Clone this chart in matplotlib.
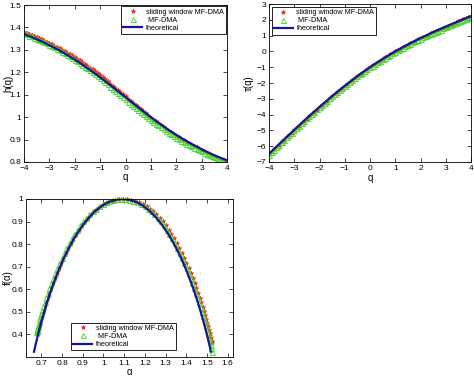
import numpy as np
import matplotlib
matplotlib.use('Agg')
import matplotlib.pyplot as plt

plt.rcParams['font.family'] = ['Liberation Sans', 'DejaVu Sans']

# moment order grid, -4 .. 4 step 0.1
q = np.linspace(-4, 4, 81)

# ---- h(q) ----
h_sw = [1.379, 1.375, 1.370, 1.366, 1.361, 1.356, 1.352, 1.347, 1.341, 1.336,
        1.330, 1.325, 1.319, 1.313, 1.307, 1.301, 1.295, 1.288, 1.282, 1.275,
        1.268, 1.261, 1.253, 1.245, 1.237, 1.229, 1.221, 1.213, 1.204, 1.196,
        1.187, 1.178, 1.169, 1.160, 1.150, 1.141, 1.131, 1.122, 1.112, 1.102,
        1.093, 1.083, 1.073, 1.064, 1.054, 1.045, 1.035, 1.026, 1.017, 1.007,
        0.998, 0.989, 0.981, 0.972, 0.964, 0.956, 0.948, 0.940, 0.932, 0.925,
        0.917, 0.910, 0.903, 0.896, 0.890, 0.883, 0.877, 0.871, 0.865, 0.859,
        0.853, 0.847, 0.842, 0.837, 0.832, 0.827, 0.823, 0.818, 0.814, 0.809,
        0.805]
h_mf = [1.373, 1.369, 1.364, 1.360, 1.355, 1.350, 1.345, 1.340, 1.335, 1.329,
        1.323, 1.318, 1.311, 1.305, 1.299, 1.292, 1.286, 1.279, 1.272, 1.265,
        1.257, 1.249, 1.242, 1.233, 1.225, 1.217, 1.208, 1.200, 1.191, 1.182,
        1.173, 1.164, 1.155, 1.146, 1.136, 1.127, 1.117, 1.108, 1.098, 1.088,
        1.079, 1.069, 1.060, 1.051, 1.042, 1.033, 1.023, 1.015, 1.006, 0.997,
        0.988, 0.980, 0.971, 0.963, 0.955, 0.947, 0.939, 0.931, 0.924, 0.916,
        0.909, 0.902, 0.895, 0.889, 0.882, 0.876, 0.870, 0.864, 0.858, 0.852,
        0.847, 0.842, 0.837, 0.832, 0.827, 0.822, 0.818, 0.813, 0.809, 0.805,
        0.801]
h_th = [1.370, 1.366, 1.361, 1.357, 1.352, 1.347, 1.342, 1.337, 1.332, 1.326,
        1.320, 1.315, 1.309, 1.303, 1.297, 1.290, 1.284, 1.277, 1.270, 1.263,
        1.256, 1.249, 1.242, 1.234, 1.226, 1.218, 1.210, 1.202, 1.194, 1.186,
        1.177, 1.169, 1.160, 1.151, 1.143, 1.134, 1.125, 1.116, 1.107, 1.098,
        1.089, 1.080, 1.071, 1.062, 1.053, 1.044, 1.035, 1.026, 1.017, 1.009,
        1.000, 0.992, 0.983, 0.975, 0.967, 0.959, 0.951, 0.943, 0.936, 0.928,
        0.921, 0.914, 0.907, 0.900, 0.894, 0.887, 0.881, 0.875, 0.869, 0.863,
        0.857, 0.851, 0.846, 0.841, 0.835, 0.830, 0.825, 0.821, 0.816, 0.812,
        0.807]

# ---- tau(q) ----
tau_sw = [-6.516, -6.361, -6.207, -6.052, -5.899, -5.747, -5.596, -5.443, -5.292, -5.142,
          -4.991, -4.843, -4.694, -4.546, -4.399, -4.254, -4.108, -3.963, -3.821, -3.678,
          -3.536, -3.395, -3.256, -3.117, -2.980, -2.845, -2.710, -2.577, -2.445, -2.315,
          -2.187, -2.060, -1.935, -1.812, -1.691, -1.571, -1.453, -1.337, -1.222, -1.110,
          -1.000, -0.892, -0.785, -0.681, -0.578, -0.478, -0.379, -0.282, -0.187, -0.093,
          -0.002, 0.089, 0.177, 0.265, 0.350, 0.434, 0.517, 0.598, 0.678, 0.757,
          0.834, 0.911, 0.986, 1.062, 1.135, 1.208, 1.280, 1.350, 1.421, 1.489,
          1.559, 1.627, 1.695, 1.763, 1.829, 1.896, 1.961, 2.026, 2.092, 2.156,
          2.221]
tau_mf = [-6.530, -6.374, -6.219, -6.063, -5.909, -5.754, -5.601, -5.447, -5.295, -5.143,
          -4.991, -4.841, -4.691, -4.541, -4.393, -4.246, -4.099, -3.953, -3.809, -3.665,
          -3.522, -3.383, -3.245, -3.108, -2.972, -2.838, -2.705, -2.573, -2.443, -2.314,
          -2.187, -2.062, -1.938, -1.816, -1.696, -1.577, -1.460, -1.345, -1.231, -1.120,
          -1.010, -0.903, -0.798, -0.695, -0.593, -0.493, -0.395, -0.299, -0.204, -0.111,
          -0.020, 0.070, 0.158, 0.245, 0.330, 0.413, 0.496, 0.577, 0.656, 0.735,
          0.812, 0.887, 0.961, 1.035, 1.107, 1.178, 1.248, 1.317, 1.386, 1.453,
          1.521, 1.586, 1.651, 1.715, 1.778, 1.841, 1.903, 1.965, 2.027, 2.088,
          2.149]
tau_th = [-6.480, -6.326, -6.173, -6.019, -5.867, -5.714, -5.563, -5.411, -5.261, -5.111,
          -4.961, -4.813, -4.665, -4.517, -4.371, -4.226, -4.081, -3.937, -3.795, -3.653,
          -3.512, -3.373, -3.235, -3.098, -2.962, -2.828, -2.695, -2.563, -2.433, -2.304,
          -2.177, -2.052, -1.928, -1.806, -1.686, -1.567, -1.450, -1.335, -1.221, -1.110,
          -1.000, -0.892, -0.786, -0.682, -0.579, -0.478, -0.379, -0.282, -0.186, -0.092,
          0.000, 0.091, 0.180, 0.268, 0.354, 0.438, 0.522, 0.604, 0.684, 0.764,
          0.842, 0.919, 0.995, 1.071, 1.145, 1.218, 1.290, 1.361, 1.432, 1.501,
          1.571, 1.639, 1.707, 1.774, 1.840, 1.906, 1.971, 2.036, 2.101, 2.165,
          2.229]

# ---- f(alpha), points ordered q = -4 .. 4 ----
alpha_sw = [1.5253, 1.5229, 1.5202, 1.5171, 1.5137, 1.5099, 1.5057, 1.5012, 1.4962, 1.4908,
            1.4850, 1.4787, 1.4720, 1.4647, 1.4570, 1.4488, 1.4402, 1.4311, 1.4215, 1.4115,
            1.4010, 1.3901, 1.3787, 1.3668, 1.3545, 1.3418, 1.3285, 1.3149, 1.3008, 1.2863,
            1.2715, 1.2562, 1.2407, 1.2248, 1.2086, 1.1903, 1.1717, 1.1529, 1.1340, 1.1150,
            1.0960, 1.0770, 1.0580, 1.0391, 1.0204, 1.0038, 0.9874, 0.9712, 0.9554, 0.9398,
            0.9246, 0.9097, 0.8952, 0.8811, 0.8675, 0.8542, 0.8415, 0.8292, 0.8173, 0.8059,
            0.7950, 0.7845, 0.7745, 0.7650, 0.7558, 0.7472, 0.7390, 0.7315, 0.7245, 0.7181,
            0.7123, 0.7071, 0.7023, 0.6982, 0.6945, 0.6913, 0.6886, 0.6863, 0.6845, 0.6832,
            0.6823]
f_sw = [0.3605, 0.3708, 0.3822, 0.3944, 0.4075, 0.4214, 0.4363, 0.4520, 0.4687, 0.4860,
        0.5043, 0.5233, 0.5431, 0.5636, 0.5848, 0.6065, 0.6286, 0.6509, 0.6733, 0.6957,
        0.7181, 0.7402, 0.7622, 0.7838, 0.8049, 0.8255, 0.8455, 0.8647, 0.8830, 0.9004,
        0.9166, 0.9317, 0.9454, 0.9579, 0.9688, 0.9782, 0.9860, 0.9921, 0.9965, 0.9991,
        1.0000, 0.9991, 0.9965, 0.9921, 0.9860, 0.9782, 0.9688, 0.9579, 0.9454, 0.9317,
        0.9166, 0.9004, 0.8830, 0.8647, 0.8455, 0.8255, 0.8049, 0.7838, 0.7622, 0.7402,
        0.7181, 0.6957, 0.6733, 0.6509, 0.6286, 0.6065, 0.5850, 0.5643, 0.5448, 0.5264,
        0.5091, 0.4929, 0.4780, 0.4643, 0.4518, 0.4406, 0.4306, 0.4219, 0.4145, 0.4083,
        0.4035]
alpha_mf = [1.5253, 1.5216, 1.5177, 1.5135, 1.5091, 1.5043, 1.4993, 1.4940, 1.4884, 1.4824,
            1.4761, 1.4694, 1.4624, 1.4549, 1.4471, 1.4388, 1.4302, 1.4211, 1.4115, 1.4015,
            1.3910, 1.3801, 1.3687, 1.3568, 1.3445, 1.3318, 1.3185, 1.3049, 1.2908, 1.2763,
            1.2615, 1.2462, 1.2307, 1.2148, 1.1986, 1.1803, 1.1617, 1.1429, 1.1240, 1.1050,
            1.0860, 1.0670, 1.0480, 1.0291, 1.0124, 0.9958, 0.9794, 0.9632, 0.9474, 0.9318,
            0.9166, 0.9017, 0.8872, 0.8731, 0.8595, 0.8462, 0.8335, 0.8212, 0.8093, 0.7979,
            0.7870, 0.7765, 0.7665, 0.7570, 0.7478, 0.7392, 0.7310, 0.7235, 0.7165, 0.7103,
            0.7045, 0.6994, 0.6947, 0.6907, 0.6872, 0.6841, 0.6816, 0.6795, 0.6779, 0.6769,
            0.6762]
f_mf = [0.3235, 0.3386, 0.3544, 0.3707, 0.3876, 0.4050, 0.4230, 0.4415, 0.4606, 0.4801,
        0.5002, 0.5207, 0.5416, 0.5629, 0.5846, 0.6065, 0.6286, 0.6509, 0.6733, 0.6957,
        0.7181, 0.7402, 0.7622, 0.7838, 0.8049, 0.8255, 0.8455, 0.8647, 0.8830, 0.9004,
        0.9166, 0.9317, 0.9454, 0.9579, 0.9688, 0.9782, 0.9860, 0.9921, 0.9965, 0.9991,
        1.0000, 0.9991, 0.9965, 0.9921, 0.9860, 0.9782, 0.9688, 0.9579, 0.9454, 0.9317,
        0.9166, 0.9004, 0.8830, 0.8647, 0.8455, 0.8255, 0.8049, 0.7838, 0.7622, 0.7402,
        0.7181, 0.6957, 0.6733, 0.6509, 0.6286, 0.6065, 0.5850, 0.5644, 0.5451, 0.5269,
        0.5099, 0.4940, 0.4795, 0.4662, 0.4543, 0.4437, 0.4344, 0.4264, 0.4197, 0.4144,
        0.4105]
alpha_th = [1.5193, 1.5117, 1.5031, 1.4933, 1.4824, 1.4701, 1.4564, 1.4411, 1.4242, 1.4055,
            1.3850, 1.3627, 1.3385, 1.3125, 1.2848, 1.2555, 1.2247, 1.1926, 1.1597, 1.1260,
            1.0920, 1.0580, 1.0244, 0.9914, 0.9594, 0.9286, 0.8992, 0.8715, 0.8455, 0.8213,
            0.7990, 0.7785, 0.7598, 0.7429, 0.7276, 0.7139, 0.7016, 0.6907, 0.6810, 0.6723,
            0.6647]
f_th = [0.3235, 0.3544, 0.3876, 0.4230, 0.4606, 0.5002, 0.5416, 0.5846, 0.6286, 0.6733,
        0.7181, 0.7622, 0.8049, 0.8455, 0.8830, 0.9166, 0.9454, 0.9688, 0.9860, 0.9965,
        1.0000, 0.9965, 0.9860, 0.9688, 0.9454, 0.9166, 0.8830, 0.8455, 0.8049, 0.7622,
        0.7181, 0.6733, 0.6286, 0.5846, 0.5416, 0.5002, 0.4606, 0.4230, 0.3876, 0.3544,
        0.3235]

labels = ['sliding window MF-DMA', ' MF-DMA', 'theoretical']
c_red = '#f0301c'
c_green = '#40e030'
c_blue = '#16169a'


def style(ax):
    ax.tick_params(direction='in', top=True, right=True, length=3, width=0.5,
                   labelsize=6, pad=2)
    for s in ax.spines.values():
        s.set_linewidth(0.6)


def draw(ax, x1, y1, x2, y2, x3, y3, clip=True):
    ax.plot(x1, y1, '*', color=c_red, ms=3.2, mew=0.6, label=labels[0], clip_on=clip)
    ax.plot(x2, y2, '^', color=c_green, mfc='none', ms=3.6, mew=0.7,
            label=labels[1], clip_on=clip)
    ax.plot(x3, y3, '-', color=c_blue, lw=1.6, label=labels[2])


def place_labels(ax, xl, yl, xx, yy):
    ax.set_xlabel(xl, fontsize=7)
    ax.set_ylabel(yl, fontsize=7)
    ax.xaxis.label.set_va('center')
    ax.yaxis.label.set_va('center')
    ax.xaxis.set_label_coords(0.5, xx)
    ax.yaxis.set_label_coords(yy, 0.5)


def add_legend(ax, **kw):
    leg = ax.legend(fontsize=5.2, frameon=True, fancybox=False, edgecolor='black',
                    framealpha=1, borderpad=0.3, labelspacing=0.15,
                    handlelength=2.6, handletextpad=0.5, **kw)
    leg.get_frame().set_linewidth(0.6)


fig = plt.figure(figsize=(4.74, 3.78), dpi=100)

# h(q)
ax1 = fig.add_axes([24 / 474, 1 - 162 / 378, 203 / 474, 157 / 378])
draw(ax1, q, h_sw, q, h_mf, q, h_th)
ax1.set_xlim(-4, 4)
ax1.set_ylim(0.8, 1.5)
ax1.set_xticks(range(-4, 5))
ax1.set_yticks([0.8, 0.9, 1.0, 1.1, 1.2, 1.3, 1.4, 1.5])
ax1.set_yticklabels(['0.8', '0.9', '1', '1.1', '1.2', '1.3', '1.4', '1.5'])
place_labels(ax1, 'q', 'h(q)', -0.096, -0.076)
style(ax1)
add_legend(ax1, loc='upper right', borderaxespad=0.2)

# tau(q)
ax2 = fig.add_axes([269 / 474, 1 - 162 / 378, 202 / 474, 158 / 378])
draw(ax2, q, tau_sw, q, tau_mf, q, tau_th)
ax2.set_xlim(-4, 4)
ax2.set_ylim(-7, 3)
ax2.set_xticks(range(-4, 5))
ax2.set_yticks(range(-7, 4))
place_labels(ax2, 'q', 'τ(q)', -0.101, -0.099)
style(ax2)
add_legend(ax2, loc='upper left', borderaxespad=0.4)

# f(alpha)
ax3 = fig.add_axes([26 / 474, 1 - 357 / 378, 207 / 474, 158 / 378])
draw(ax3, alpha_sw, f_sw, alpha_mf, f_mf, alpha_th, f_th, clip=False)
ax3.set_xlim(0.626, 1.626)
ax3.set_ylim(0.3, 1.0)
ax3.set_xticks([0.7, 0.8, 0.9, 1.0, 1.1, 1.2, 1.3, 1.4, 1.5, 1.6])
ax3.set_xticklabels(['0.7', '0.8', '0.9', '1', '1.1', '1.2', '1.3', '1.4', '1.5', '1.6'])
ax3.set_yticks([0.4, 0.5, 0.6, 0.7, 0.8, 0.9, 1.0])
ax3.set_yticklabels(['0.4', '0.5', '0.6', '0.7', '0.8', '0.9', '1'])
place_labels(ax3, 'α', 'f(α)', -0.095, -0.087)
style(ax3)
add_legend(ax3, loc='lower center', bbox_to_anchor=(0.47, 0.02))

fig.savefig('out.png', dpi=100)
